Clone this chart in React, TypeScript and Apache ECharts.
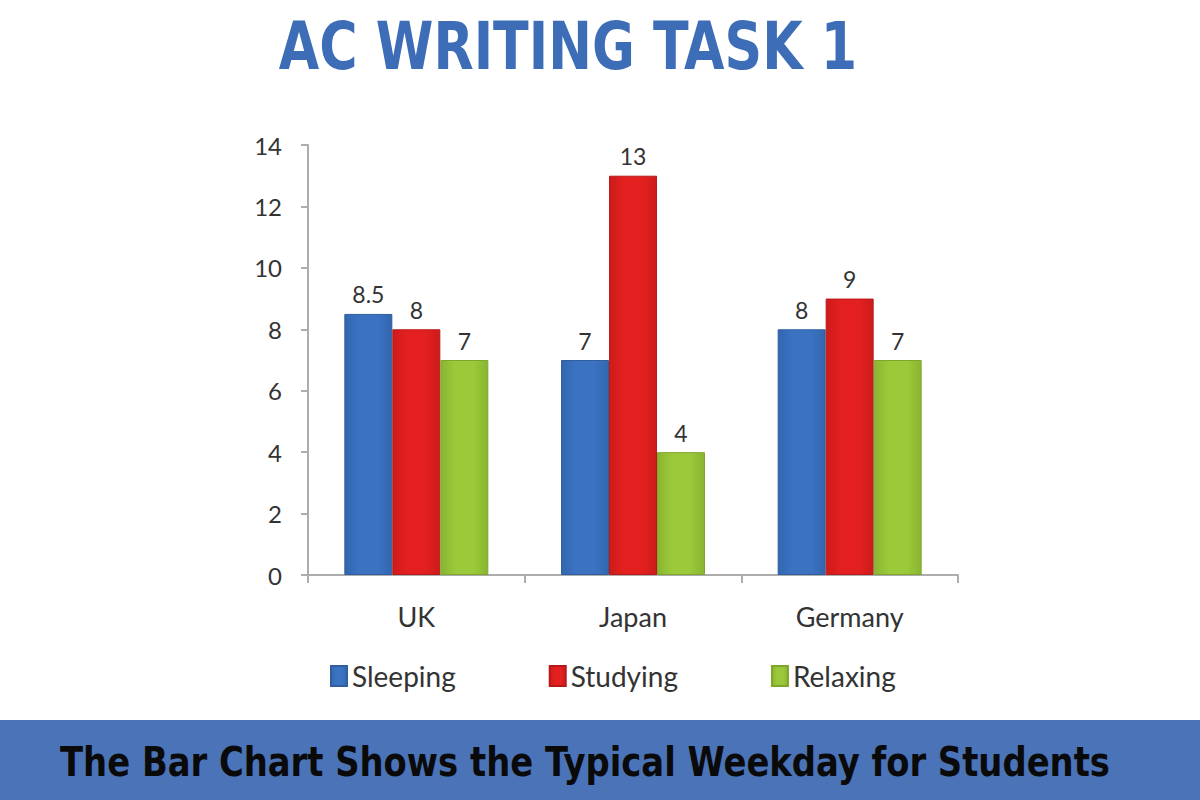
import { useEffect, useRef } from 'react';
import * as echarts from 'echarts';

const categories = ['UK', 'Japan', 'Germany'];
const sleeping = [8.5, 7, 8];
const studying = [8, 13, 9];
const relaxing = [7, 4, 7];
const seriesNames = ['Sleeping', 'Studying', 'Relaxing'];
const yTicks = [0, 2, 4, 6, 8, 10, 12, 14];

const mainTitle = 'AC WRITING TASK 1';
const footerText = 'The Bar Chart Shows the Typical Weekday for Students';

const colors = ['#3b73c2', '#e3201f', '#9bc93a'];
const shades = ['#3266ae', '#cc1b1b', '#89b530'];
const edges = ['#2f5f9f', '#b81919', '#7fa62c'];

export default function App() {
  const chartRef = useRef<HTMLDivElement>(null);

  useEffect(() => {
    if (!chartRef.current) return;
    const chart = echarts.init(chartRef.current, undefined, { renderer: 'svg' });

    const values = [sleeping, studying, relaxing];

    chart.setOption({
      animation: false,
      backgroundColor: '#ffffff',
      textStyle: { fontFamily: 'Lato, "Open Sans", sans-serif' },
      graphic: [
        {
          type: 'text',
          x: 568,
          y: 46,
          scaleX: 0.88,
          style: {
            text: mainTitle,
            fill: '#3e6db8',
            font: 'bold 66px "DejaVu Sans Condensed", "DejaVu Sans", sans-serif',
            textAlign: 'center',
            textVerticalAlign: 'middle',
          },
        },
        {
          type: 'rect',
          shape: { x: 0, y: 720, width: 1200, height: 80 },
          style: { fill: '#4a73b8' },
        },
        {
          type: 'text',
          x: 585,
          y: 762,
          scaleX: 0.94,
          style: {
            text: footerText,
            fill: '#0a0a0a',
            font: 'bold 40px "DejaVu Sans Condensed", "DejaVu Sans", sans-serif',
            textAlign: 'center',
            textVerticalAlign: 'middle',
          },
        },
      ],
      legend: {
        data: seriesNames,
        left: 325,
        top: 657,
        itemWidth: 16,
        itemHeight: 20,
        itemGap: 93,
        icon: 'rect',
        textStyle: { fontSize: 28, color: '#333333', fontFamily: 'Lato, sans-serif' },
      },
      grid: { left: 308, right: 242, top: 145, bottom: 225, containLabel: false },
      xAxis: {
        type: 'category',
        data: categories,
        axisLine: { lineStyle: { color: '#adadad', width: 2 } },
        axisTick: { show: true, length: 8, lineStyle: { color: '#adadad', width: 2 } },
        axisLabel: { fontSize: 27, color: '#333333', margin: 28 },
      },
      yAxis: {
        type: 'value',
        min: 0,
        max: 14,
        interval: 2,
        axisLine: { show: true, lineStyle: { color: '#adadad', width: 2 } },
        axisTick: { show: true, length: 7, lineStyle: { color: '#adadad', width: 2 } },
        axisLabel: {
          fontSize: 24,
          color: '#333333',
          margin: 26,
          formatter: (v: number) => (yTicks.includes(v) ? String(v) : ''),
        },
        splitLine: { show: false },
      },
      series: seriesNames.map((name, i) => ({
        name,
        type: 'bar',
        barWidth: 48,
        barGap: '0%',
        data: values[i],
        itemStyle: {
          color: new echarts.graphic.LinearGradient(0, 0, 1, 0, [
            { offset: 0, color: shades[i] },
            { offset: 0.3, color: colors[i] },
            { offset: 0.7, color: colors[i] },
            { offset: 1, color: shades[i] },
          ]),
          borderColor: edges[i],
          borderWidth: 1,
        },
        label: {
          show: true,
          position: 'top',
          distance: 8,
          fontSize: 23,
          color: '#333333',
        },
      })),
    });

    return () => chart.dispose();
  }, []);

  return (
    <div
      ref={chartRef}
      style={{ position: 'fixed', left: 0, top: 0, width: 1200, height: 800 }}
    />
  );
}
